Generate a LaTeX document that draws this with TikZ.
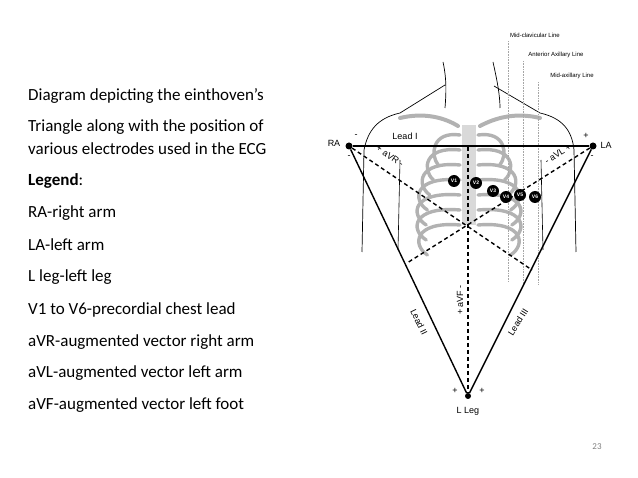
\documentclass[tikz,border=0pt]{standalone}
\usepackage{fontspec}
\setmainfont{Carlito}
\newfontfamily\labelfont{Liberation Sans}
\usetikzlibrary{calc}
\tikzset{
  lead/.style={line width=1.4pt},
  aug/.style={line width=1.4pt,dash pattern=on 4pt off 3pt},
  axline/.style={gray!70,densely dotted,line width=0.6pt},
  rib/.style={gray!60,line width=3.4pt,line cap=round},
  elec/.style={circle,fill=black,inner sep=0pt,minimum size=12pt,text=white,font=\labelfont\fontsize{5}{5}\selectfont\bfseries},
  lbl/.style={font=\labelfont\fontsize{9}{10}\selectfont,inner sep=1pt},
  legend/.style={anchor=west,font=\fontsize{17}{19}\selectfont,inner sep=0pt}
}
\begin{document}
\begin{tikzpicture}[x=1pt,y=-1pt]
    \useasboundingbox (0,0) rectangle (638,478);
    % body outline
    \draw[line width=0.7pt] (443,62) .. controls (447,80) and (446,95) .. (445,108);
    \draw[line width=0.7pt] (493,62) .. controls (497,80) and (500,95) .. (500,108);
    \draw[line width=0.7pt] (445,85) -- (400,113) .. controls (378,118) and (368,130) .. (364,150) -- (362,252);
    \draw[line width=0.7pt] (494,86) -- (540,113) .. controls (562,118) and (572,130) .. (574,150) -- (576,252);
    \draw[line width=0.6pt] (400,160) -- (398,250);
    \draw[line width=0.6pt] (541,160) -- (543,250);
    % clavicles and sternum
    \draw[rib,line width=4pt] (400,118) .. controls (425,112) and (445,118) .. (458,126);
    \draw[rib,line width=4pt] (540,118) .. controls (515,112) and (495,118) .. (480,126);
    \fill[gray!30] (462,125) rectangle (476,225);
    % ribs
    \foreach \y/\w in {135/28,150/36,165/42,180/46,195/48,210/48,225/46}{
      \draw[rib] (460,\y) .. controls (460-\w,\y-4) and (458-\w,\y+20) .. (455-\w*0.6,\y+30);
      \draw[rib] (478,\y) .. controls (478+\w,\y-4) and (480+\w,\y+20) .. (483+\w*0.6,\y+30);
    }
    % anatomical lines
    \node[lbl,font=\labelfont\fontsize{6}{7}\selectfont] (mcl) at (535,35) {Mid-clavicular Line};
    \node[lbl,font=\labelfont\fontsize{6}{7}\selectfont] (aal) at (556,55) {Anterior Axillary Line};
    \node[lbl,font=\labelfont\fontsize{6}{7}\selectfont] (mal) at (572,76) {Mid-axillary Line};
    \draw[axline] (508,41) -- (508,282);
    \draw[axline] (523,61) -- (523,285);
    \draw[axline] (538,82) -- (538,285);
    % electrodes
    \node[circle,fill=black,inner sep=0pt,minimum size=7pt] (ra) at (349,146) {};
    \node[circle,fill=black,inner sep=0pt,minimum size=7pt] (la) at (593,146) {};
    \node[circle,fill=black,inner sep=0pt,minimum size=6pt] (ll) at (468,396) {};
    \coordinate (top) at (468,147);
    \coordinate (avrend) at (532,270);
    \coordinate (avlend) at (407,263);
    % leads
    \draw[lead] (ra) -- (la);
    \draw[lead] (ra) -- (ll);
    \draw[lead] (la) -- (ll);
    \draw[aug] (ra) -- (avrend);
    \draw[aug] (la) -- (avlend);
    \draw[aug] (top) -- (ll);
    \node[elec] (v1) at (454,181) {V1};
    \node[elec] (v2) at (476,183) {V2};
    \node[elec] (v3) at (493,191) {V3};
    \node[elec] (v4) at (506,197) {V4};
    \node[elec] (v5) at (520,195) {V5};
    \node[elec] (v6) at (535,197) {V6};
    % labels
    \node[lbl] (ralbl) at (334,143) {RA};
    \node[lbl] (lalbl) at (606,145) {LA};
    \node[lbl] (leadi) at (405,136) {Lead I};
    \node[lbl] at (356,136) {-};
    \node[lbl] at (586,136) {+};
    \node[lbl] at (349,157) {-};
    \node[lbl] at (592,157) {-};
    \node[lbl,rotate=-34] (avr) at (390,156) {+ aVR -};
    \node[lbl,rotate=32] (avl) at (558,154) {- aVL +};
    \node[lbl,rotate=-64] (leadii) at (419,322) {Lead II};
    \node[lbl,rotate=58] (leadiii) at (518,322) {Lead III};
    \node[lbl,rotate=90] (avf) at (460,300) {+ aVF -};
    \node[lbl] at (455,391) {+};
    \node[lbl] at (482,391) {+};
    \node[lbl] (lleg) at (468,411) {L Leg};
    % legend text
    \node[legend] at (28,96) {Diagram depicting the einthoven's};
    \node[legend] at (28,127) {Triangle along with the position of};
    \node[legend] at (28,149) {various electrodes used in the ECG};
    \node[legend] at (28,181) {\textbf{Legend}:};
    \node[legend] at (28,213) {RA-right arm};
    \node[legend] at (28,245) {LA-left arm};
    \node[legend] at (28,277) {L leg-left leg};
    \node[legend] at (28,310) {V1 to V6-precordial chest lead};
    \node[legend] at (28,342) {aVR-augmented vector right arm};
    \node[legend] at (28,373) {aVL-augmented vector left arm};
    \node[legend] at (28,405) {aVF-augmented vector left foot};
    \node[font=\fontsize{9}{10}\selectfont,text=gray] (page) at (597,447) {23};
\end{tikzpicture}
\end{document}
